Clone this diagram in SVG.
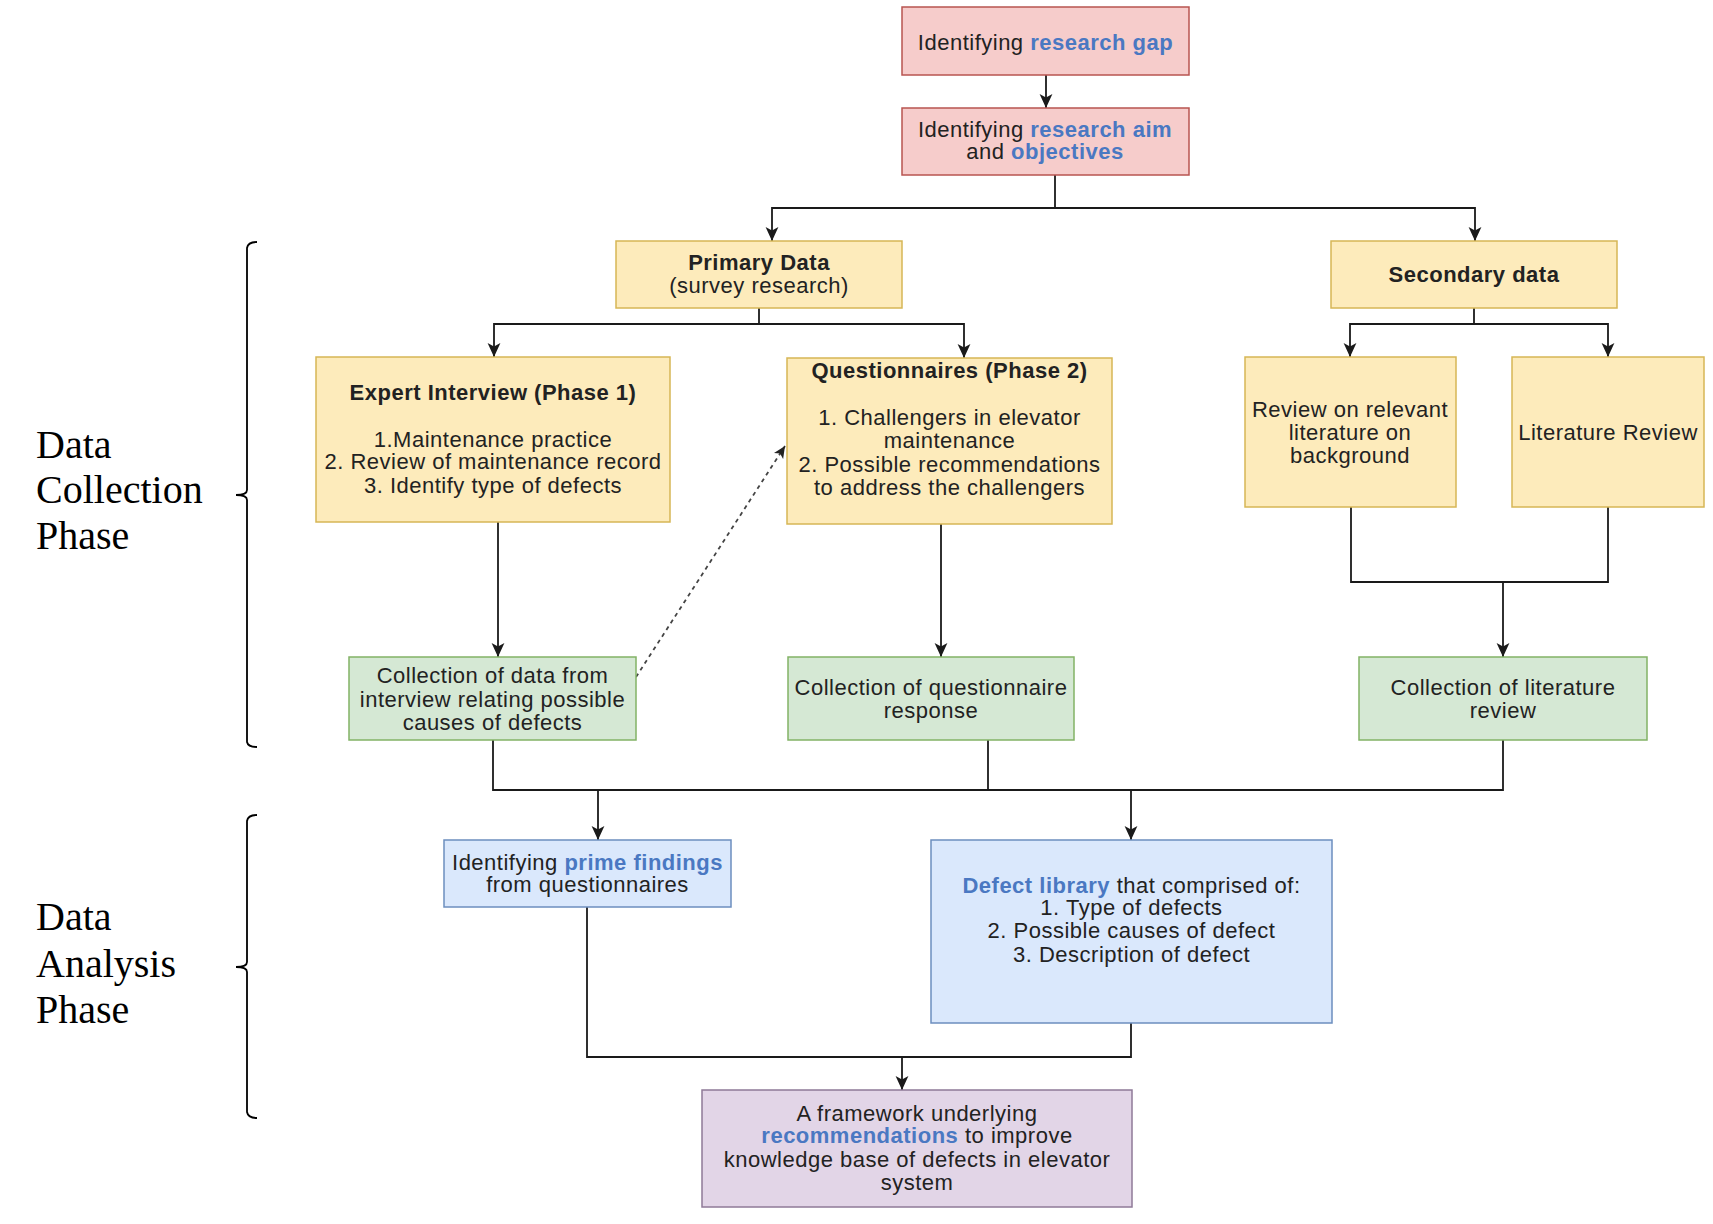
<svg xmlns="http://www.w3.org/2000/svg" width="1713" height="1224" viewBox="0 0 1713 1224">
<style>
  .t { font-family: "Liberation Sans", Arial, sans-serif; font-size: 22px; letter-spacing: 0.5px; fill: #222; text-anchor: middle; }
  .b { font-weight: bold; }
  .hl { fill: #4a78c2; font-weight: bold; }
  .lbl { font-family: "Liberation Serif", "Times New Roman", serif; font-size: 40px; fill: #000; }
  .pink { fill: #f6cccb; stroke: #b85450; stroke-width: 1.5; }
  .yel { fill: #fdebbb; stroke: #d6b656; stroke-width: 1.5; }
  .grn { fill: #d5e8d4; stroke: #82b366; stroke-width: 1.5; }
  .blu { fill: #dae8fc; stroke: #6c8ebf; stroke-width: 1.5; }
  .pur { fill: #e2d5e7; stroke: #8f7a98; stroke-width: 1.5; }
  .ln { fill: none; stroke: #1a1a1a; stroke-width: 1.8; }
  .ar { marker-end: url(#arr); }
  .dash { fill: none; stroke: #444; stroke-width: 1.8; stroke-dasharray: 4 4; marker-end: url(#arrg); }
  .br { fill: none; stroke: #000; stroke-width: 1.8; }
</style>
<defs>
  <marker id="arr" viewBox="0 0 12 12" refX="12" refY="6" markerWidth="14" markerHeight="14" markerUnits="userSpaceOnUse" orient="auto">
    <path d="M0,0.5 L12,6 L0,11.5 L3,6 z" fill="#1a1a1a"/>
  </marker>
  <marker id="arrg" viewBox="0 0 12 12" refX="12" refY="6" markerWidth="12" markerHeight="12" markerUnits="userSpaceOnUse" orient="auto">
    <path d="M0,0.5 L12,6 L0,11.5 L3,6 z" fill="#222"/>
  </marker>
</defs>
<rect width="1713" height="1224" fill="#fff"/>

<g id="connectors">
  <line class="ln ar" x1="1046" y1="75" x2="1046" y2="108"/>
  <polyline class="ln" points="1055,175 1055,208"/>
  <polyline class="ln ar" points="1055,208 772,208 772,241"/>
  <polyline class="ln ar" points="1055,208 1475,208 1475,241"/>
  <polyline class="ln" points="759,308 759,324"/>
  <polyline class="ln ar" points="759,324 494,324 494,357"/>
  <polyline class="ln ar" points="759,324 964,324 964,358"/>
  <polyline class="ln" points="1474,308 1474,324"/>
  <polyline class="ln ar" points="1474,324 1350,324 1350,357"/>
  <polyline class="ln ar" points="1474,324 1608,324 1608,357"/>
  <line class="ln ar" x1="498" y1="522" x2="498" y2="657"/>
  <line class="ln ar" x1="941" y1="524" x2="941" y2="657"/>
  <polyline class="ln" points="1351,507 1351,582 1608,582 1608,507"/>
  <line class="ln ar" x1="1503" y1="582" x2="1503" y2="657"/>
  <line class="dash" x1="636" y1="677" x2="785" y2="446"/>
  <polyline class="ln" points="493,740 493,790 1503,790 1503,740"/>
  <line class="ln" x1="988" y1="740" x2="988" y2="790"/>
  <line class="ln ar" x1="598" y1="790" x2="598" y2="840"/>
  <line class="ln ar" x1="1131" y1="790" x2="1131" y2="840"/>
  <polyline class="ln" points="587,907 587,1057 1131,1057 1131,1023"/>
  <line class="ln ar" x1="902" y1="1057" x2="902" y2="1090"/>
</g>

<g id="research-gap">
  <rect class="pink" x="902" y="7" width="287" height="68"/>
  <text class="t" x="1045.5" y="50">Identifying <tspan class="hl">research gap</tspan></text>
</g>

<g id="research-aim">
  <rect class="pink" x="902" y="108" width="287" height="67"/>
  <text class="t" x="1045" y="137">Identifying <tspan class="hl">research aim</tspan></text>
  <text class="t" x="1045" y="159">and <tspan class="hl">objectives</tspan></text>
</g>

<g id="primary-data">
  <rect class="yel" x="616" y="241" width="286" height="67"/>
  <text class="t b" x="759" y="270">Primary Data</text>
  <text class="t" x="759" y="293">(survey research)</text>
</g>

<g id="secondary-data">
  <rect class="yel" x="1331" y="241" width="286" height="67"/>
  <text class="t b" x="1474" y="282">Secondary data</text>
</g>

<g id="expert-interview">
  <rect class="yel" x="316" y="357" width="354" height="165"/>
  <text class="t b" x="493" y="400">Expert Interview (Phase 1)</text>
  <text class="t" x="493" y="447">1.Maintenance practice</text>
  <text class="t" x="493" y="469">2. Review of maintenance record</text>
  <text class="t" x="493" y="493">3. Identify type of defects</text>
</g>

<g id="questionnaires">
  <rect class="yel" x="787" y="358" width="325" height="166"/>
  <text class="t b" x="949.5" y="378">Questionnaires (Phase 2)</text>
  <text class="t" x="949.5" y="425">1. Challengers in elevator</text>
  <text class="t" x="949.5" y="448">maintenance</text>
  <text class="t" x="949.5" y="471.5">2. Possible recommendations</text>
  <text class="t" x="949.5" y="495">to address the challengers</text>
</g>

<g id="review-background">
  <rect class="yel" x="1245" y="357" width="211" height="150"/>
  <text class="t" x="1350" y="417">Review on relevant</text>
  <text class="t" x="1350" y="440">literature on</text>
  <text class="t" x="1350" y="463">background</text>
</g>

<g id="literature-review">
  <rect class="yel" x="1512" y="357" width="192" height="150"/>
  <text class="t" x="1608" y="440">Literature Review</text>
</g>

<g id="collection-interview">
  <rect class="grn" x="349" y="657" width="287" height="83"/>
  <text class="t" x="492.5" y="683">Collection of data from</text>
  <text class="t" x="492.5" y="707">interview relating possible</text>
  <text class="t" x="492.5" y="730">causes of defects</text>
</g>

<g id="collection-questionnaire">
  <rect class="grn" x="788" y="657" width="286" height="83"/>
  <text class="t" x="931" y="695">Collection of questionnaire</text>
  <text class="t" x="931" y="718">response</text>
</g>

<g id="collection-literature">
  <rect class="grn" x="1359" y="657" width="288" height="83"/>
  <text class="t" x="1503" y="695">Collection of literature</text>
  <text class="t" x="1503" y="718">review</text>
</g>

<g id="prime-findings">
  <rect class="blu" x="444" y="840" width="287" height="67"/>
  <text class="t" x="587.5" y="870">Identifying <tspan class="hl">prime findings</tspan></text>
  <text class="t" x="587.5" y="892">from questionnaires</text>
</g>

<g id="defect-library">
  <rect class="blu" x="931" y="840" width="401" height="183"/>
  <text class="t" x="1131.5" y="893"><tspan class="hl">Defect library</tspan> that comprised of:</text>
  <text class="t" x="1131.5" y="915">1. Type of defects</text>
  <text class="t" x="1131.5" y="938">2. Possible causes of defect</text>
  <text class="t" x="1131.5" y="962">3. Description of defect</text>
</g>

<g id="framework">
  <rect class="pur" x="702" y="1090" width="430" height="117"/>
  <text class="t" x="917" y="1121">A framework underlying</text>
  <text class="t" x="917" y="1143"><tspan class="hl">recommendations</tspan> to improve</text>
  <text class="t" x="917" y="1167">knowledge base of defects in elevator</text>
  <text class="t" x="917" y="1190">system</text>
</g>

<g id="data-collection-phase">
  <path class="br" d="M257,242 Q248,242 247,248 L247,490 Q247,495 236,495 Q247,495 247,500 L247,742 Q248,747 257,747"/>
  <text class="lbl" x="36" y="458">Data</text>
  <text class="lbl" x="36" y="503">Collection</text>
  <text class="lbl" x="36" y="549">Phase</text>
</g>

<g id="data-analysis-phase">
  <path class="br" d="M257,815 Q248,815 247,821 L247,962 Q247,967 236,967 Q247,967 247,972 L247,1112 Q248,1118 257,1118"/>
  <text class="lbl" x="36" y="930">Data</text>
  <text class="lbl" x="36" y="977">Analysis</text>
  <text class="lbl" x="36" y="1023">Phase</text>
</g>
</svg>
